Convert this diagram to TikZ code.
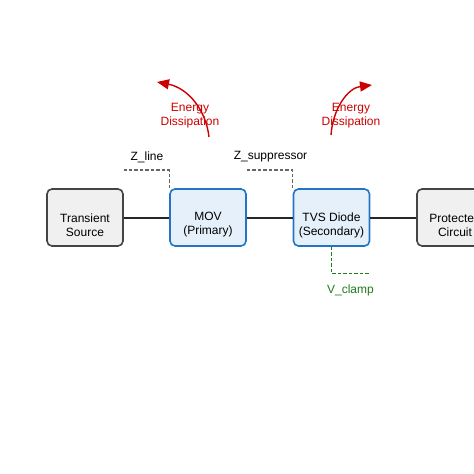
\documentclass[tikz,border=0pt]{standalone}
\usepackage{fontspec}
\setmainfont{Liberation Sans}
\usetikzlibrary{arrows.meta}
\definecolor{grayfill}{HTML}{F0F0F0}
\definecolor{grayline}{HTML}{444444}
\definecolor{bluefill}{HTML}{E6F0FB}
\definecolor{blueline}{HTML}{2474C4}
\definecolor{redc}{HTML}{CC0000}
\definecolor{greenc}{HTML}{1E7A1E}
\tikzset{
  lbl/.style={font=\fontsize{12}{14}\selectfont, inner sep=0pt, align=center},
  base/.style={rounded corners=5pt, minimum width=76pt, minimum height=57pt, line width=1.6pt, inner sep=0pt},
  graybox/.style={base, draw=grayline, fill=grayfill},
  bluebox/.style={base, draw=blueline, fill=bluefill},
  boxtext/.style={label={[lbl, yshift=-7.5pt]center:#1}},
  wire/.style={draw=black!85, line width=2pt},
  zdash/.style={draw=black!60, dash pattern=on 3.5pt off 2pt, line width=1.3pt},
  vdash/.style={draw=greenc, dash pattern=on 3.5pt off 2pt, line width=1.6pt},
  energy/.style={draw=redc, line width=1.4pt, -{Triangle[length=12pt,width=10pt]}},
}
\begin{document}
\begin{tikzpicture}[x=1pt,y=-1pt]
\useasboundingbox (0,0) rectangle (474,474);
\node[graybox, boxtext={Transient\\Source}] (src) at (85,217.5) {};
\node[bluebox, boxtext={MOV\\(Primary)}] (mov) at (208,217.5) {};
\node[bluebox, boxtext={TVS Diode\\(Secondary)}] (tvs) at (331.5,217.5) {};
\node[graybox, boxtext={Protected\\Circuit}] (prot) at (455,217.5) {};
\draw[wire] (src.east) -- (mov.west);
\draw[wire] (mov.east) -- (tvs.west);
\draw[wire] (tvs.east) -- (prot.west);
% impedances
\coordinate (zl) at (124,170);
\coordinate (zs) at (247,170);
\draw[zdash] (mov.north west) |- (zl);
\draw[zdash] (tvs.north west) |- (zs);
\node[lbl] (zlt) at (147,157) {Z\_line};
\node[lbl] (zst) at (270.5,157) {Z\_suppressor};
% clamp
\coordinate (vc) at (370,273.5);
\draw[vdash] (tvs.south) |- (vc);
\node[lbl, text=greenc] (vct) at (350.5,290) {V\_clamp};
% energy dissipation
\node[lbl, text=redc] (e1) at (190,116) {Energy\\Dissipation};
\node[lbl, text=redc] (e2) at (351,116) {Energy\\Dissipation};
\coordinate (e1s) at (209,137);
\coordinate (e1e) at (157,82);
\coordinate (e2s) at (331,135);
\coordinate (e2e) at (372,85);
\draw[energy] (e1s) .. controls (206,110) and (188,88) .. (e1e);
\draw[energy] (e2s) .. controls (333,108) and (348,88) .. (e2e);
\end{tikzpicture}
\end{document}
